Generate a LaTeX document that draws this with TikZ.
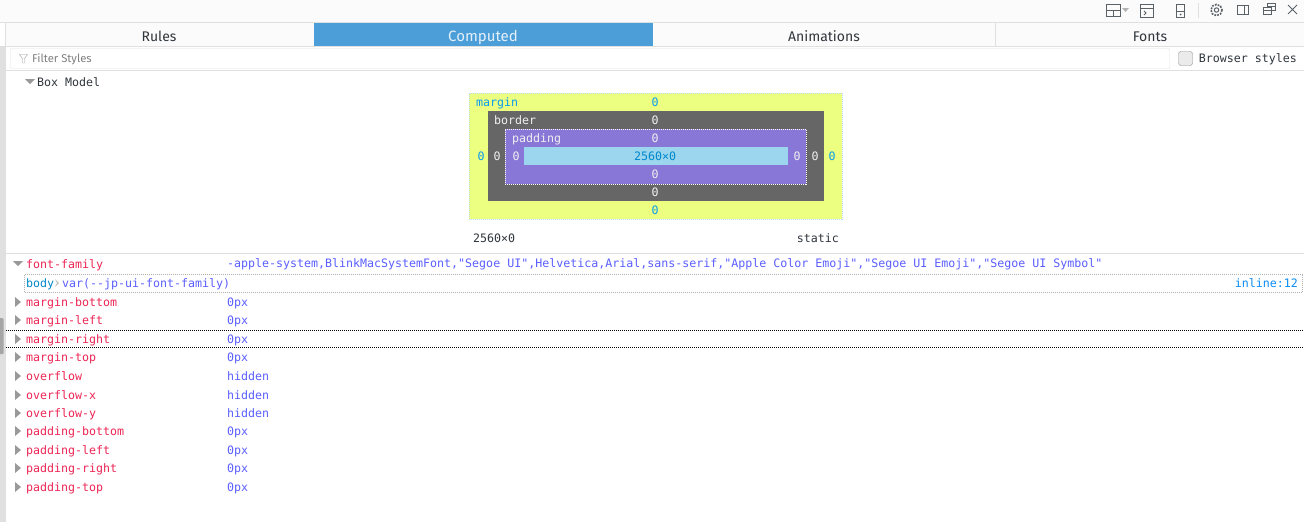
\documentclass[tikz,border=0pt]{standalone}
\usepackage{fontspec}
\setmainfont{Fira Sans}
\setmonofont{DejaVu Sans Mono}
\usetikzlibrary{positioning}
\definecolor{barbg}{HTML}{FBFBFB}
\definecolor{rulegrey}{HTML}{E0E0E0}
\definecolor{tabblue}{HTML}{4C9ED9}
\definecolor{inktext}{HTML}{30363D}
\definecolor{propred}{HTML}{ED2655}
\definecolor{valblue}{HTML}{5B5FFF}
\definecolor{linkblue}{HTML}{0088CC}
\definecolor{srcblue}{HTML}{0A8CF5}
\definecolor{marginyellow}{HTML}{EDFF80}
\definecolor{bordergrey}{HTML}{666666}
\definecolor{paddingviolet}{HTML}{8877D6}
\definecolor{contentblue}{HTML}{9CD6EE}
\definecolor{boxnum}{HTML}{0A9CEF}
\definecolor{boxwhite}{HTML}{F0F0F0}
\definecolor{icongrey}{HTML}{5A6268}
\tikzset{
  tab label/.style = {font=\fontsize{14}{14}\selectfont, text=inktext, inner sep=0pt},
  mono label/.style = {font=\ttfamily\fontsize{11.63}{11.63}\selectfont, inner sep=0pt, text height=9pt, text depth=3pt, yshift=-1pt},
  prop name/.style = {mono label, text=propred, anchor=west},
  prop value/.style = {mono label, text=valblue, anchor=west},
  box num/.style = {mono label, text=boxwhite},
  margin num/.style = {mono label, text=boxnum},
  box area/.style = {draw=none, inner sep=0pt, anchor=north west},
  fold closed/.style = {fill=black!40, draw=none},
  icon line/.style = {draw=icongrey, line width=1pt},
  row dots/.style = {dash pattern=on 1pt off 1pt},
}

\begin{document}
\begin{tikzpicture}[x=1pt, y=-1pt]
\useasboundingbox (0,0) rectangle (1304,522);
\fill[white] (0,0) rectangle (1304,522);
% toolbar and tabs
\fill[barbg] (0,0) rectangle (1304,22);
\fill[barbg] (6,23) rectangle (1304,46);
\fill[tabblue] (314,23) rectangle (653,46);
\draw[rulegrey] (0,22.5) -- (1304,22.5);
\draw[rulegrey] (0,46.5) -- (1304,46.5);
\draw[rulegrey] (5.5,22) -- (5.5,46);
\draw[rulegrey] (995.5,23) -- (995.5,46);
\fill[rulegrey] (0,46) rectangle (6,522);
\fill[black!35, rounded corners=1pt] (-2,318) rectangle (3.5,354);
\node[tab label] (rulesTab) at (159,36.3) {Rules};
\node[tab label, font=\fontsize{15}{15}\selectfont, text=white!85!tabblue] (computedTab) at (483,37.2) {Computed};
\node[tab label] (animationsTab) at (824,36.3) {Animations};
\node[tab label] (fontsTab) at (1150,36.3) {Fonts};
% toolbar icons
\draw[icon line] (1106.5,4.5) rectangle (1120.5,16.5) (1106.5,10.5) -- (1120.5,10.5) (1113.5,10.5) -- (1113.5,16.5);
\fill[black!30] (1122,8) -- (1129,8) -- (1125.5,12) -- cycle;
\draw[icon line] (1140.5,4.5) rectangle (1153.5,17.5) (1140.5,8.5) -- (1153.5,8.5);
\draw[icon line, line width=.8pt] (1144,11) -- (1146,13) -- (1144,15);
\draw[icon line] (1176.5,4.5) rectangle (1184.5,17.5) (1176.5,11.5) -- (1184.5,11.5);
\fill[icongrey] (1180.5,14.5) circle (1);
\draw[rulegrey] (1198.5,3) -- (1198.5,18);
\draw[icon line, dash pattern=on 1.8pt off 1.2pt, line width=1.6pt] (1216.5,10) circle (5.6);
\draw[icon line] (1216.5,10) circle (2.2);
\draw[icon line] (1237.5,5.5) rectangle (1248.5,14.5) (1244.5,5.5) -- (1244.5,14.5);
\draw[icon line] (1267.5,3.5) rectangle (1275.5,10.5) (1267.5,6.5) -- (1275.5,6.5);
\draw[icon line, fill=barbg] (1263.5,7.5) rectangle (1271.5,14.5) (1263.5,10.5) -- (1271.5,10.5);
\draw[icon line] (1288,5) -- (1297,14) (1297,5) -- (1288,14);
% filter row
\draw[rulegrey, rounded corners=1pt] (10.5,48.5) rectangle (1169.5,68.5);
\draw[rulegrey] (0,70.5) -- (1304,70.5);
\draw[black!40, fill=white] (19.5,54.5) -- (27.5,54.5) -- (24.5,58.5) -- (24.5,63) -- (22.5,63) -- (22.5,58.5) -- cycle;
\node[tab label, anchor=west, font=\fontsize{11.3}{11.3}\selectfont, text=black!50] (filterText) at (32,59.5) {Filter Styles};
\node[draw=black!45, fill=black!8, rounded corners=2.5pt, minimum size=14pt, inner sep=0pt] (browserCheck) at (1185.5,58.5) {};
\node[mono label, anchor=west, text=inktext, right=6pt of browserCheck] (browserText) {Browser styles};
% box model
\fill[black!40] (25,79) -- (35,79) -- (30,84) -- cycle;
\node[mono label, anchor=west, text=inktext] (boxTitle) at (37,82) {Box Model};
\node[box area, fill=marginyellow, draw=srcblue!30, row dots, minimum width=373pt, minimum height=126pt] (marginBox) at (469,93) {};
\node[box area, fill=bordergrey, minimum width=336pt, minimum height=90pt] (borderBox) at (488,111) {};
\node[box area, fill=paddingviolet, draw=white, row dots, minimum width=301pt, minimum height=55pt] (paddingBox) at (505,128.5) {};
\node[box area, fill=contentblue, minimum width=264pt, minimum height=18pt] (contentBox) at (524,147) {};
\node[margin num, anchor=west] (marginText) at (476,102) {margin};
\node[box num, anchor=west] (borderText) at (494,120) {border};
\node[box num, anchor=west] (paddingText) at (512,138) {padding};
\node[margin num] (marginTop) at (655,102) {0};
\node[box num] (borderTop) at (655,120) {0};
\node[box num] (paddingTop) at (655,138) {0};
\node[mono label, text=linkblue] (contentSize) at (655,156) {2560×0};
\node[box num] (paddingBottom) at (655,174) {0};
\node[box num] (borderBottom) at (655,192) {0};
\node[margin num] (marginBottom) at (655,210) {0};
\node[margin num] (marginLeft) at (481,156) {0};
\node[box num] (borderLeft) at (497,156) {0};
\node[box num] (paddingLeft) at (516,156) {0};
\node[box num] (paddingRight) at (797,156) {0};
\node[box num] (borderRight) at (815,156) {0};
\node[margin num] (marginRight) at (832,156) {0};
\node[mono label, anchor=west, text=inktext] (boxSize) at (473,238) {2560×0};
\node[mono label, anchor=east, text=inktext] (boxPosition) at (839,238) {static};
\draw[rulegrey] (0,253.5) -- (1304,253.5);
% computed list
\fill[black!40] (13,261) -- (23,261) -- (18,266) -- cycle;
\node[prop name] (fontFamily) at (26,264) {font-family};
\node[prop value] (fontValue) at (227,263) {-apple-system,BlinkMacSystemFont,"Segoe UI",Helvetica,Arial,sans-serif,"Apple Color Emoji","Segoe UI Emoji","Segoe UI Symbol"};
\draw[black!30, row dots] (24.5,274.5) rectangle (1302.5,292.5);
\node[mono label, anchor=west, text=linkblue] (bodyTag) at (26,283) {body};
\fill[black!25] (55,279) -- (59,283) -- (55,287) -- (57,283) -- cycle;
\node[prop value] (bodyVar) at (62,283) {var(--jp-ui-font-family)};
\node[mono label, anchor=east, text=srcblue] (inlineSrc) at (1298,283) {inline:12};
\draw[black, row dots] (6,330.5) -- (1304,330.5) (6,347.5) -- (1304,347.5);
\foreach \rowname/\rowval/\rowy in {
  margin-bottom/0px/302, margin-left/0px/320, margin-right/0px/339, margin-top/0px/357,
  overflow/hidden/376, overflow-x/hidden/395, overflow-y/hidden/413,
  padding-bottom/0px/431, padding-left/0px/450, padding-right/0px/468, padding-top/0px/487} {
  \fill[fold closed] (15,\rowy-5) -- (21,\rowy) -- (15,\rowy+5) -- cycle;
  \node[prop name] (name\rowy) at (26,\rowy) {\rowname};
  \node[prop value] (val\rowy) at (227,\rowy) {\rowval};
}
\end{tikzpicture}
\end{document}
